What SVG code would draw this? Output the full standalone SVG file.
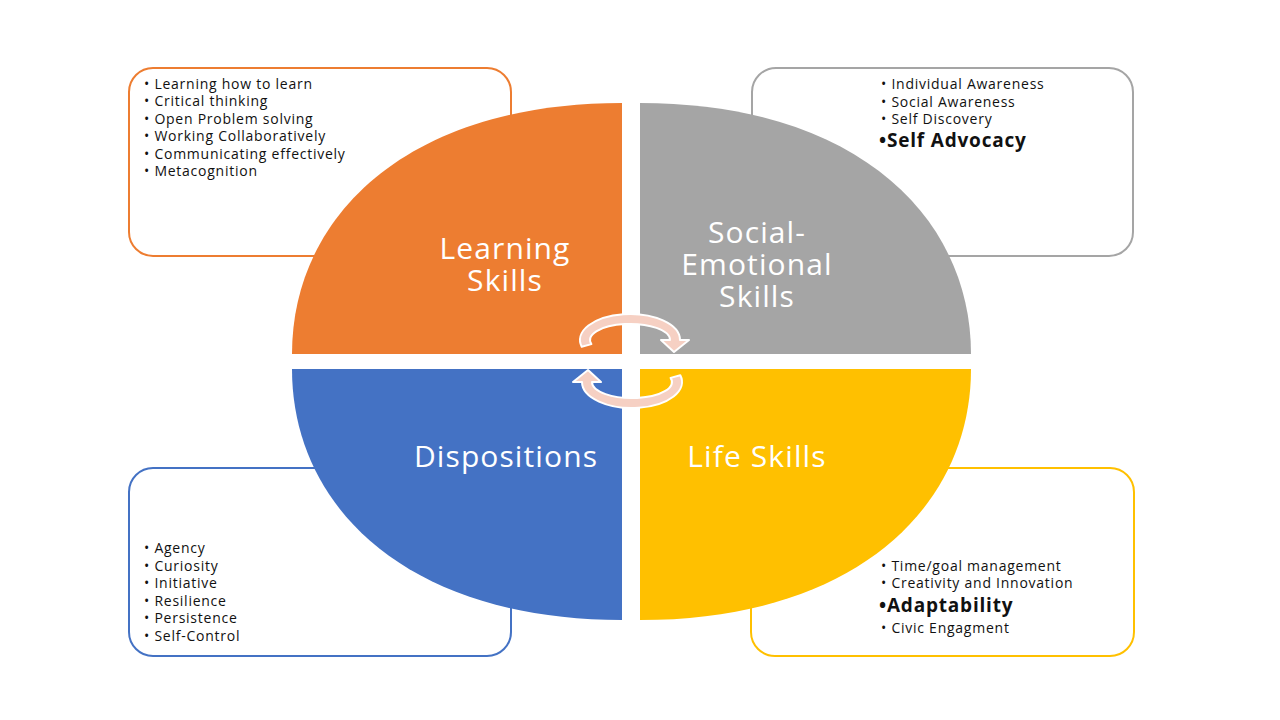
<svg xmlns="http://www.w3.org/2000/svg" width="1280" height="720" viewBox="0 0 1280 720">
<style>
.box{fill:#fff;stroke-width:2}
.lst{font-family:"Open Sans","Liberation Sans",sans-serif;font-size:14px;letter-spacing:0.75px;fill:#111}
.big{font-family:"Open Sans","Liberation Sans",sans-serif;font-size:19px;letter-spacing:0.8px;font-weight:bold;fill:#111}
.lbl{font-family:"Open Sans","Liberation Sans",sans-serif;font-size:30px;letter-spacing:1.1px;fill:#fff;text-anchor:middle}
.arr{fill:#F6D0C3;stroke:#fff;stroke-width:2;stroke-linejoin:round}
</style>
<rect width="1280" height="720" fill="#fff"/>
<g id="box-learning"><rect class="box" x="129" y="68" width="382" height="188" rx="24" stroke="#ED7D31"/>
<text class="lst" x="144"><tspan y="89">• Learning how to learn</tspan><tspan x="144" y="106">• Critical thinking</tspan><tspan x="144" y="124">• Open Problem solving</tspan><tspan x="144" y="141">• Working Collaboratively</tspan><tspan x="144" y="159">• Communicating effectively</tspan><tspan x="144" y="176">• Metacognition</tspan></text></g>
<g id="box-social"><rect class="box" x="752" y="68" width="381" height="188" rx="24" stroke="#A5A5A5"/>
<text class="lst" x="881"><tspan y="89">• Individual Awareness</tspan><tspan x="881" y="107">• Social Awareness</tspan><tspan x="881" y="124">• Self Discovery</tspan></text>
<text class="big" x="879" y="147">•Self Advocacy</text></g>
<g id="box-dispositions"><rect class="box" x="129" y="468" width="382" height="188" rx="24" stroke="#4472C4"/>
<text class="lst" x="144"><tspan y="553">• Agency</tspan><tspan x="144" y="571">• Curiosity</tspan><tspan x="144" y="588">• Initiative</tspan><tspan x="144" y="606">• Resilience</tspan><tspan x="144" y="623">• Persistence</tspan><tspan x="144" y="641">• Self-Control</tspan></text></g>
<g id="box-life"><rect class="box" x="751" y="468" width="383" height="188" rx="24" stroke="#FFC000"/>
<text class="lst" x="881"><tspan y="571">• Time/goal management</tspan><tspan x="881" y="588">• Creativity and Innovation</tspan></text>
<text class="big" x="879" y="612">•Adaptability</text>
<text class="lst" x="881" y="633">• Civic Engagment</text></g>
<g id="q-learning"><path d="M622,354 L292,354 C292,216 407.5,103 622,103 Z" fill="#ED7D31"/>
<text class="lbl" x="505"><tspan y="259">Learning</tspan><tspan x="505" y="291">Skills</tspan></text></g>
<g id="q-social"><path d="M640,354 L640,103 C855,103 971,216 971,354 Z" fill="#A5A5A5"/>
<text class="lbl" x="757"><tspan y="243">Social-</tspan><tspan x="757" y="275">Emotional</tspan><tspan x="757" y="307">Skills</tspan></text></g>
<g id="q-dispositions"><path d="M622,369 L622,620 C407.5,620 292,507 292,369 Z" fill="#4472C4"/>
<text class="lbl" x="506" y="467">Dispositions</text></g>
<g id="q-life"><path d="M640,369 L971,369 C971,507 855,620 640,620 Z" fill="#FFC000"/>
<text class="lbl" x="757" y="467">Life Skills</text></g>
<g id="connectors">
<path id="arrow-top" class="arr" d="M581.7,346.7 A50,26 0 1 1 680,340 L689,340 L674,352 L661,340 L670,340 A40,16 0 1 0 591.4,344.1 Z"/>
<path id="arrow-bottom" class="arr" transform="rotate(180 631 361)" d="M581.7,346.7 A50,26 0 1 1 680,340 L689,340 L674,352 L661,340 L670,340 A40,16 0 1 0 591.4,344.1 Z"/>
</g>
</svg>
